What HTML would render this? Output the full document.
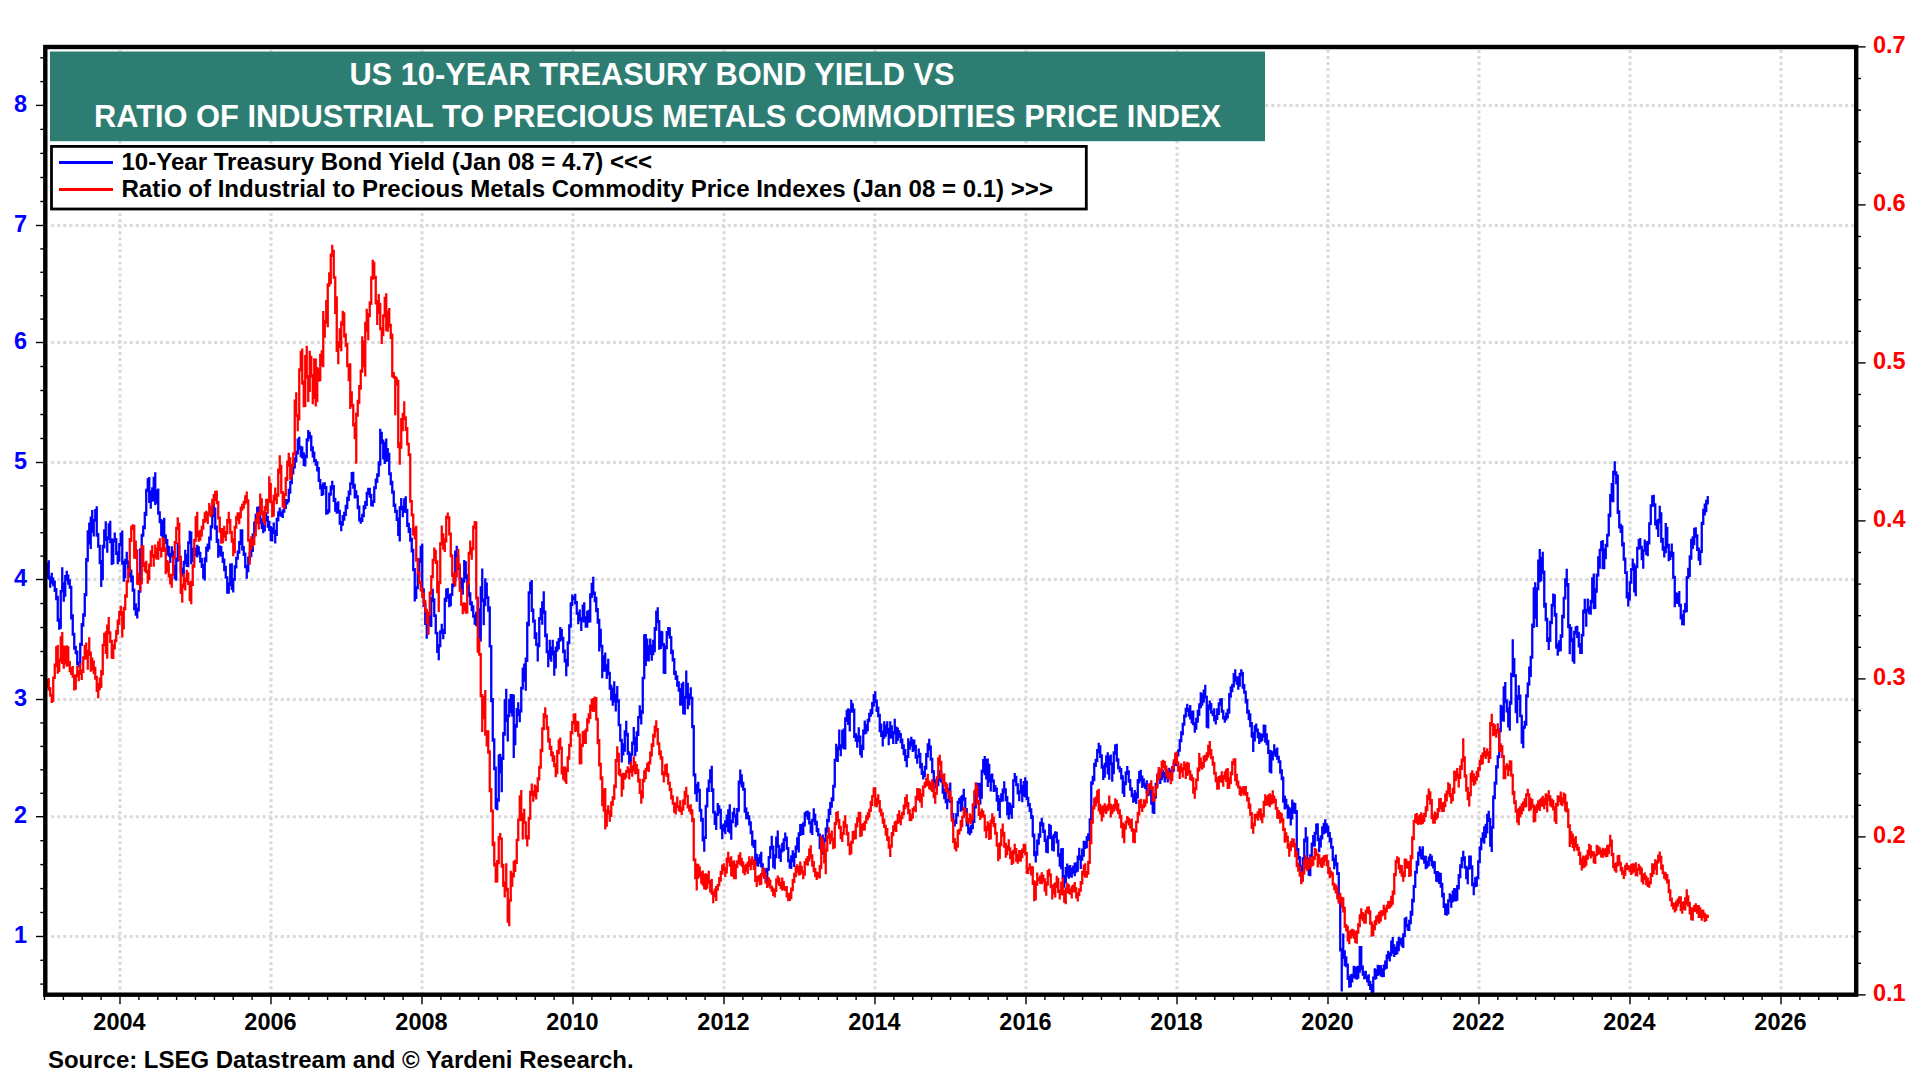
<!DOCTYPE html>
<html><head><meta charset="utf-8"><title>US 10-Year Treasury Bond Yield vs Ratio</title>
<style>
html,body{margin:0;padding:0;background:#fff;}
body{width:1920px;height:1080px;overflow:hidden;position:relative;font-family:"Liberation Sans",sans-serif;}
svg{position:absolute;left:0;top:0;}
text{font-family:"Liberation Sans",sans-serif;font-weight:bold;}
.ax{font-size:23.5px;}
.ttl{font-size:30.8px;fill:#fff;}
.lg{font-size:24.06px;fill:#000;}
</style></head><body>
<svg width="1920" height="1080" viewBox="0 0 1920 1080">
<rect x="0" y="0" width="1920" height="1080" fill="#fff"/>

<g stroke="#dadada" stroke-width="3" stroke-dasharray="3 3.04" fill="none">
<line x1="120.0" y1="50" x2="120.0" y2="993"/>
<line x1="271.0" y1="50" x2="271.0" y2="993"/>
<line x1="422.0" y1="50" x2="422.0" y2="993"/>
<line x1="573.0" y1="50" x2="573.0" y2="993"/>
<line x1="724.0" y1="50" x2="724.0" y2="993"/>
<line x1="875.0" y1="50" x2="875.0" y2="993"/>
<line x1="1026.0" y1="50" x2="1026.0" y2="993"/>
<line x1="1177.0" y1="50" x2="1177.0" y2="993"/>
<line x1="1328.0" y1="50" x2="1328.0" y2="993"/>
<line x1="1479.0" y1="50" x2="1479.0" y2="993"/>
<line x1="1630.0" y1="50" x2="1630.0" y2="993"/>
<line x1="1781.0" y1="50" x2="1781.0" y2="993"/>
<line x1="51.2" y1="936.5" x2="1854" y2="936.5"/>
<line x1="51.2" y1="816.7" x2="1854" y2="816.7"/>
<line x1="51.2" y1="699.5" x2="1854" y2="699.5"/>
<line x1="51.2" y1="579.5" x2="1854" y2="579.5"/>
<line x1="51.2" y1="462.5" x2="1854" y2="462.5"/>
<line x1="51.2" y1="342.5" x2="1854" y2="342.5"/>
<line x1="51.2" y1="225.5" x2="1854" y2="225.5"/>
<line x1="51.2" y1="105.4" x2="1854" y2="105.4"/>
</g>
<path d="M45.75 574.1V580.8M47.25 564.2V577.1M48.75 561.4V578.6M50.25 577.4V586.5M51.75 573.8V582.6M53.25 578.7V585.2M54.75 581.6V590.9M56.25 589.1V599.2M57.75 596.8V620.7M59.25 619.3V628.5M60.75 591.2V627.6M62.25 568.5V591.3M63.75 583.5V600.6M65.25 576.2V595.7M66.75 572.0V579.7M68.25 575.6V583.5M69.75 580.5V587.5M71.25 586.9V618.4M72.75 615.5V634.7M74.25 634.0V648.6M75.75 647.0V653.0M77.25 651.7V664.0M78.75 662.6V666.3M80.25 644.0V663.5M81.75 624.2V644.9M83.25 614.4V625.7M84.75 594.2V615.5M86.25 559.2V595.1M87.75 531.5V560.5M89.25 523.6V543.4M90.75 517.7V547.9M92.25 511.2V531.6M93.75 520.0V535.4M95.25 510.1V520.6M96.75 507.4V535.5M98.25 534.2V546.6M99.75 545.8V563.2M101.25 561.2V585.9M102.75 546.0V579.1M104.25 530.4V547.3M105.75 522.3V539.8M107.25 537.4V551.6M108.75 524.4V538.8M110.25 521.8V542.2M111.75 539.3V563.9M113.25 539.9V563.1M114.75 533.6V541.3M116.25 539.1V553.9M117.75 552.5V563.2M119.25 544.1V560.6M120.75 533.6V544.8M122.25 531.6V563.6M123.75 561.9V580.7M125.25 559.8V577.4M126.75 552.8V563.1M128.25 561.7V568.5M129.75 567.2V576.3M131.25 570.6V581.2M132.75 576.7V590.7M134.25 589.7V609.2M135.75 604.4V614.6M137.25 608.6V617.3M138.75 591.2V610.3M140.25 549.4V591.6M141.75 534.8V551.2M143.25 526.7V535.7M144.75 513.0V528.1M146.25 490.0V514.9M147.75 479.5V490.8M149.25 478.1V501.8M150.75 491.6V507.6M152.25 488.4V500.7M153.75 477.8V500.2M155.25 473.4V503.8M156.75 490.6V502.6M158.25 489.6V513.5M159.75 512.3V522.1M161.25 520.1V535.2M162.75 521.5V537.0M164.25 518.9V538.9M165.75 535.6V542.9M167.25 540.1V554.0M168.75 547.0V555.5M170.25 553.8V561.9M171.75 547.3V556.4M173.25 552.0V568.5M174.75 566.0V578.0M176.25 558.7V579.7M177.75 543.8V560.7M179.25 546.1V558.3M180.75 556.9V572.0M182.25 568.7V575.3M183.75 562.0V572.9M185.25 550.8V563.3M186.75 555.5V565.9M188.25 542.4V566.1M189.75 532.0V543.2M191.25 532.6V563.2M192.75 548.9V560.6M194.25 548.1V550.2M195.75 549.2V555.2M197.25 545.8V556.3M198.75 547.5V554.0M200.25 553.0V561.7M201.75 559.1V566.9M203.25 565.1V577.6M204.75 558.4V579.4M206.25 547.7V561.1M207.75 544.7V550.5M209.25 537.7V548.4M210.75 526.5V539.3M212.25 514.7V527.4M213.75 505.5V516.1M215.25 508.6V528.5M216.75 526.7V541.9M218.25 539.9V556.7M219.75 546.4V554.4M221.25 547.2V555.5M222.75 552.9V561.8M224.25 559.6V570.1M225.75 566.9V577.6M227.25 577.3V592.6M228.75 583.5V592.7M230.25 564.7V584.8M231.75 564.5V588.8M233.25 579.2V591.3M234.75 566.5V579.7M236.25 557.9V567.4M237.75 551.7V558.7M239.25 542.2V552.7M240.75 530.4V543.8M242.25 530.5V549.4M243.75 547.1V554.9M245.25 553.6V567.0M246.75 566.0V577.6M248.25 557.7V571.0M249.75 553.5V559.6M251.25 549.2V556.0M252.75 534.5V550.9M254.25 522.6V536.4M255.75 514.9V524.0M257.25 507.8V516.5M258.75 507.3V514.5M260.25 511.2V522.7M261.75 519.3V527.8M263.25 523.6V532.0M264.75 519.0V530.3M266.25 513.2V520.7M267.75 517.0V526.5M269.25 521.8V529.9M270.75 527.1V539.9M272.25 528.6V540.4M273.75 523.6V532.8M275.25 531.0V542.3M276.75 519.0V534.8M278.25 512.4V520.4M279.75 508.6V515.2M281.25 512.7V515.5M282.75 510.4V516.8M284.25 504.0V511.5M285.75 500.2V507.8M287.25 500.4V503.4M288.75 490.0V501.4M290.25 481.8V492.6M291.75 472.3V483.0M293.25 465.1V473.4M294.75 458.7V467.4M296.25 451.9V461.3M297.75 439.7V453.3M299.25 438.0V448.6M300.75 447.0V456.1M302.25 447.7V457.4M303.75 453.5V464.8M305.25 455.6V465.3M306.75 439.5V457.2M308.25 431.1V440.3M309.75 432.9V437.8M311.25 436.5V450.2M312.75 447.3V456.3M314.25 452.6V461.0M315.75 460.1V464.5M317.25 462.3V470.4M318.75 468.2V480.8M320.25 480.1V488.4M321.75 485.7V494.8M323.25 483.7V494.2M324.75 483.4V487.8M326.25 487.1V513.5M327.75 510.3V513.1M329.25 493.7V511.6M330.75 486.7V494.7M332.25 481.9V488.5M333.75 486.2V500.9M335.25 498.9V510.5M336.75 503.7V512.5M338.25 502.5V512.3M339.75 510.8V523.6M341.25 522.2V530.0M342.75 516.2V524.7M344.25 512.8V519.7M345.75 505.8V514.9M347.25 498.0V508.2M348.75 491.6V499.8M350.25 483.4V494.1M351.75 473.2V483.9M353.25 473.0V487.6M354.75 484.9V497.4M356.25 491.4V497.1M357.75 496.3V508.0M359.25 506.6V520.4M360.75 518.6V522.5M362.25 514.8V520.9M363.75 506.3V516.2M365.25 502.1V508.1M366.75 492.8V504.9M368.25 489.0V493.8M369.75 488.9V496.7M371.25 494.9V505.0M372.75 501.5V505.7M374.25 487.3V501.9M375.75 479.7V488.1M377.25 474.3V481.8M378.75 462.3V475.5M380.25 429.9V464.6M381.75 433.0V442.7M383.25 440.7V458.3M384.75 443.2V462.8M386.25 439.6V460.8M387.75 449.1V460.1M389.25 453.9V474.1M390.75 473.3V484.2M392.25 481.8V492.6M393.75 491.7V505.8M395.25 504.7V511.9M396.75 510.8V519.8M398.25 518.6V534.9M399.75 507.3V540.3M401.25 499.2V509.1M402.75 507.0V516.0M404.25 499.5V511.7M405.75 497.4V511.8M407.25 510.0V525.9M408.75 523.9V531.9M410.25 528.9V540.7M411.75 539.0V551.3M413.25 549.9V570.1M414.75 569.2V600.3M416.25 587.4V597.9M417.75 574.2V588.1M419.25 559.3V575.9M420.75 546.9V561.9M422.25 544.6V590.6M423.75 589.4V605.9M425.25 604.2V623.9M426.75 622.6V637.5M428.25 614.6V632.4M429.75 616.2V625.0M431.25 597.8V625.9M432.75 590.0V600.8M434.25 599.5V615.9M435.75 615.5V633.1M437.25 632.9V651.9M438.75 645.1V659.0M440.25 631.5V646.2M441.75 625.0V632.6M443.25 630.2V638.0M444.75 598.9V632.9M446.25 589.7V600.8M447.75 589.1V597.5M449.25 595.5V606.0M450.75 594.3V605.2M452.25 584.7V594.8M453.75 577.9V586.0M455.25 551.7V580.5M456.75 546.8V557.5M458.25 556.2V568.8M459.75 567.5V578.6M461.25 578.5V589.2M462.75 579.7V593.6M464.25 561.2V581.6M465.75 562.5V577.8M467.25 575.3V586.9M468.75 584.4V595.7M470.25 593.5V604.0M471.75 602.4V610.2M473.25 606.4V616.5M474.75 615.7V623.7M476.25 612.8V625.2M477.75 599.7V614.5M479.25 609.4V640.6M480.75 587.4V640.3M482.25 569.6V600.8M483.75 599.6V624.2M485.25 579.4V605.2M486.75 583.6V597.9M488.25 597.3V610.5M489.75 607.5V646.3M491.25 646.2V701.1M492.75 699.2V740.6M494.25 739.3V769.1M495.75 767.6V808.0M497.25 799.4V809.0M498.75 755.7V800.6M500.25 755.0V772.4M501.75 757.9V791.0M503.25 733.1V758.8M504.75 700.2V734.6M506.25 689.9V720.8M507.75 715.7V740.3M509.25 699.9V716.1M510.75 695.2V711.9M512.25 695.2V715.4M513.75 695.6V756.9M515.25 724.8V744.2M516.75 709.1V726.5M518.25 703.4V714.8M519.75 710.3V721.2M521.25 687.9V711.3M522.75 668.6V688.3M524.25 664.7V680.7M525.75 658.6V689.5M527.25 622.8V660.9M528.75 592.5V625.1M530.25 583.0V592.9M531.75 581.1V610.9M533.25 609.7V621.7M534.75 620.6V637.9M536.25 633.5V644.9M537.75 644.2V660.3M539.25 618.1V646.2M540.75 609.2V618.8M542.25 602.3V623.7M543.75 592.4V612.9M545.25 611.7V636.0M546.75 634.7V652.0M548.25 651.4V666.0M549.75 640.8V658.4M551.25 647.6V660.5M552.75 641.0V654.4M554.25 651.7V674.5M555.75 647.6V667.4M557.25 642.5V650.5M558.75 639.2V648.4M560.25 628.1V640.5M561.75 629.8V639.7M563.25 638.0V652.2M564.75 650.6V661.4M566.25 659.8V675.0M567.75 642.4V665.4M569.25 625.3V643.1M570.75 603.5V626.5M572.25 595.6V604.9M573.75 597.2V598.9M575.25 594.9V603.4M576.75 602.2V613.5M578.25 613.1V623.0M579.75 610.7V620.0M581.25 618.2V629.8M582.75 605.6V621.0M584.25 603.5V621.4M585.75 617.5V626.6M587.25 611.9V626.7M588.75 611.0V621.5M590.25 594.5V621.3M591.75 584.0V596.8M593.25 578.0V594.2M594.75 592.6V601.0M596.25 597.9V611.2M597.75 609.1V622.5M599.25 619.9V650.3M600.75 630.0V646.4M602.25 646.0V677.1M603.75 656.4V670.6M605.25 653.6V670.5M606.75 665.5V677.8M608.25 659.8V674.2M609.75 672.8V688.7M611.25 686.0V699.4M612.75 688.7V704.5M614.25 682.4V701.3M615.75 695.0V710.3M617.25 687.2V701.6M618.75 700.4V725.1M620.25 724.8V740.5M621.75 739.9V761.3M623.25 744.4V754.4M624.75 731.4V750.6M626.25 721.9V735.4M627.75 733.8V753.8M629.25 752.5V763.4M630.75 754.1V763.3M632.25 742.7V754.7M633.75 728.1V743.9M635.25 737.8V755.1M636.75 732.3V750.6M638.25 717.2V734.9M639.75 706.5V717.7M641.25 711.2V723.3M642.75 677.8V712.6M644.25 635.3V678.2M645.75 635.2V664.8M647.25 639.7V660.1M648.75 646.4V660.4M650.25 639.7V653.9M651.75 645.6V659.5M653.25 640.8V654.2M654.75 628.2V651.0M656.25 611.7V629.5M657.75 608.5V622.0M659.25 621.1V648.7M660.75 631.9V647.8M662.25 632.4V645.4M663.75 644.1V672.6M665.25 646.5V672.8M666.75 632.1V648.0M668.25 628.2V634.5M669.75 628.4V637.7M671.25 637.2V653.0M672.75 651.0V660.4M674.25 659.2V673.8M675.75 671.9V678.9M677.25 676.5V685.5M678.75 682.3V690.6M680.25 689.2V704.7M681.75 684.4V704.3M683.25 682.9V713.0M684.75 696.9V713.5M686.25 671.7V697.6M687.75 684.0V708.1M689.25 694.7V704.3M690.75 688.5V698.4M692.25 697.8V727.2M693.75 726.2V775.4M695.25 774.3V793.2M696.75 784.8V800.7M698.25 783.0V791.6M699.75 790.0V810.5M701.25 809.9V820.7M702.75 819.0V840.4M704.25 837.4V850.7M705.75 805.8V837.8M707.25 788.8V806.3M708.75 780.6V790.8M710.25 770.5V782.2M711.75 766.9V790.9M713.25 789.5V812.3M714.75 811.8V823.8M716.25 814.2V828.9M717.75 804.2V814.9M719.25 806.3V812.7M720.75 809.8V828.0M722.25 826.0V838.0M723.75 824.7V830.5M725.25 821.5V833.2M726.75 815.6V826.1M728.25 810.4V830.9M729.75 805.5V832.4M731.25 820.8V838.5M732.75 812.8V822.2M734.25 809.0V816.3M735.75 815.5V826.2M737.25 809.2V824.0M738.75 781.7V810.6M740.25 770.7V783.3M741.75 775.4V786.3M743.25 782.8V789.7M744.75 789.2V811.5M746.25 808.4V818.2M747.75 812.8V818.4M749.25 816.5V824.3M750.75 822.4V833.2M752.25 831.6V844.6M753.75 840.9V846.9M755.25 840.9V864.0M756.75 854.8V864.6M758.25 858.2V865.6M759.75 855.4V862.5M761.25 852.9V866.4M762.75 864.4V874.7M764.25 868.9V877.7M765.75 869.6V881.7M767.25 868.9V886.1M768.75 857.2V869.5M770.25 847.2V857.6M771.75 837.0V848.6M773.25 846.6V866.7M774.75 855.5V868.1M776.25 837.7V857.0M777.75 831.7V846.6M779.25 845.8V857.6M780.75 849.7V860.9M782.25 843.9V851.3M783.75 839.5V850.2M785.25 833.7V840.2M786.75 837.7V848.6M788.25 848.2V861.0M789.75 860.4V867.4M791.25 856.4V867.8M792.75 851.4V861.0M794.25 854.1V865.9M795.75 846.6V856.8M797.25 838.4V848.9M798.75 833.3V851.4M800.25 825.2V834.8M801.75 824.8V834.2M803.25 823.5V833.9M804.75 813.3V825.3M806.25 812.2V815.7M807.75 811.7V818.7M809.25 813.2V823.4M810.75 822.1V832.0M812.25 819.9V833.9M813.75 809.4V820.8M815.25 814.9V824.2M816.75 822.0V831.2M818.25 829.1V835.2M819.75 834.7V848.0M821.25 837.5V850.3M822.75 835.7V853.6M824.25 839.2V853.9M825.75 828.7V840.7M827.25 819.8V831.3M828.75 810.0V821.1M830.25 803.2V813.8M831.75 798.5V806.5M833.25 785.8V800.0M834.75 760.0V786.5M836.25 744.9V760.3M837.75 747.3V760.9M839.25 730.6V749.0M840.75 745.3V755.1M842.25 730.8V747.0M843.75 729.7V748.4M845.25 718.5V748.4M846.75 710.9V720.6M848.25 709.5V723.8M849.75 710.4V730.3M851.25 700.8V711.5M852.75 704.5V711.7M854.25 709.6V736.8M855.75 734.1V740.5M857.25 736.4V746.6M858.75 728.4V740.9M860.25 736.6V754.0M861.75 746.0V756.7M863.25 730.7V748.8M864.75 721.6V733.3M866.25 725.3V732.7M867.75 719.9V730.0M869.25 713.9V721.0M870.75 710.2V715.5M872.25 703.2V713.1M873.75 695.1V705.7M875.25 692.4V701.9M876.75 700.6V710.8M878.25 707.7V716.1M879.75 714.8V731.1M881.25 724.7V735.9M882.75 731.6V745.4M884.25 722.3V737.5M885.75 725.9V735.5M887.25 722.5V732.8M888.75 729.0V744.1M890.25 722.5V737.3M891.75 726.5V737.7M893.25 732.2V742.8M894.75 719.8V733.3M896.25 727.7V742.8M897.75 728.7V739.9M899.25 731.3V736.7M900.75 734.2V742.2M902.25 739.6V747.9M903.75 745.5V754.2M905.25 750.1V760.1M906.75 756.1V766.2M908.25 739.5V756.8M909.75 742.3V748.5M911.25 737.9V745.3M912.75 740.5V750.8M914.25 740.6V749.8M915.75 745.8V757.6M917.25 756.2V762.7M918.75 749.6V756.7M920.25 753.9V767.4M921.75 763.8V773.9M923.25 772.1V778.4M924.75 766.9V776.0M926.25 754.2V768.7M927.75 744.5V756.4M929.25 739.9V749.4M930.75 746.6V759.6M932.25 759.0V772.1M933.75 771.1V782.6M935.25 780.5V787.1M936.75 781.0V789.0M938.25 778.1V785.0M939.75 771.2V780.2M941.25 772.1V781.6M942.75 780.2V792.7M944.25 789.9V798.2M945.75 789.2V802.0M947.25 800.2V808.2M948.75 788.9V800.9M950.25 783.6V801.8M951.75 801.2V816.7M953.25 814.2V823.2M954.75 820.9V825.4M956.25 814.5V822.9M957.75 802.0V815.4M959.25 799.2V802.9M960.75 797.4V810.6M962.25 795.9V809.3M963.75 789.9V799.7M965.25 798.4V811.2M966.75 809.2V825.4M968.25 824.1V832.5M969.75 828.5V834.1M971.25 825.9V832.1M972.75 820.6V828.2M974.25 805.8V821.9M975.75 789.3V807.3M977.25 784.0V793.8M978.75 783.8V796.0M980.25 784.0V803.5M981.75 770.8V797.7M983.25 760.1V771.9M984.75 757.2V774.0M986.25 759.8V778.4M987.75 759.7V785.8M989.25 765.0V781.3M990.75 775.4V790.4M992.25 774.6V781.4M993.75 780.7V790.9M995.25 786.2V790.4M996.75 788.7V800.6M998.25 796.1V809.9M999.75 799.1V816.9M1001.25 794.4V800.8M1002.75 789.7V800.3M1004.25 782.3V792.3M1005.75 789.4V800.1M1007.25 797.2V814.2M1008.75 803.5V818.3M1010.25 803.9V813.7M1011.75 806.2V817.5M1013.25 780.5V806.9M1014.75 774.1V781.2M1016.25 776.8V785.2M1017.75 784.5V793.3M1019.25 791.4V800.2M1020.75 779.8V792.6M1022.25 785.8V801.2M1023.75 782.2V795.4M1025.25 778.5V796.3M1026.75 781.8V798.9M1028.25 797.8V805.3M1029.75 804.1V811.0M1031.25 809.4V817.8M1032.75 816.4V836.2M1034.25 834.7V855.1M1035.75 852.1V861.4M1037.25 840.6V854.6M1038.75 834.5V843.7M1040.25 823.0V836.7M1041.75 819.0V825.0M1043.25 823.6V831.9M1044.75 830.6V840.9M1046.25 839.8V851.5M1047.75 836.6V852.1M1049.25 824.9V837.5M1050.75 826.2V838.0M1052.25 836.9V849.5M1053.75 835.0V850.4M1055.25 832.3V837.2M1056.75 833.0V842.4M1058.25 840.7V855.5M1059.75 854.4V865.7M1061.25 849.4V868.0M1062.75 849.2V877.6M1064.25 876.2V886.6M1065.75 868.2V882.2M1067.25 864.7V875.6M1068.75 866.8V877.6M1070.25 866.2V876.0M1071.75 868.8V876.6M1073.25 866.6V872.7M1074.75 863.6V875.0M1076.25 863.5V871.7M1077.75 856.7V870.5M1079.25 848.9V859.2M1080.75 856.3V867.9M1082.25 849.6V859.5M1083.75 841.9V855.5M1085.25 842.1V847.8M1086.75 837.1V847.0M1088.25 834.3V839.9M1089.75 819.5V840.1M1091.25 782.3V820.5M1092.75 777.0V783.6M1094.25 764.0V780.0M1095.75 759.9V765.9M1097.25 750.2V761.1M1098.75 744.0V752.2M1100.25 746.3V756.9M1101.75 755.3V767.6M1103.25 766.5V778.9M1104.75 764.0V776.7M1106.25 756.4V766.3M1107.75 753.5V773.3M1109.25 756.9V778.5M1110.75 755.6V764.1M1112.25 763.5V780.5M1113.75 752.5V773.0M1115.25 745.4V753.5M1116.75 744.8V760.5M1118.25 759.4V768.1M1119.75 767.3V771.3M1121.25 769.1V778.4M1122.75 776.3V792.6M1124.25 782.4V795.9M1125.75 772.5V784.1M1127.25 767.2V773.9M1128.75 771.5V781.6M1130.25 780.2V789.6M1131.75 788.3V796.1M1133.25 794.7V801.5M1134.75 791.2V800.8M1136.25 793.6V802.9M1137.75 780.2V797.3M1139.25 772.1V782.4M1140.75 770.9V780.1M1142.25 776.6V786.9M1143.75 779.4V785.7M1145.25 784.4V787.8M1146.75 781.5V792.1M1148.25 789.1V795.2M1149.75 784.5V794.1M1151.25 790.4V803.6M1152.75 799.8V812.4M1154.25 796.3V812.9M1155.75 783.8V797.7M1157.25 776.5V786.1M1158.75 771.7V778.5M1160.25 778.3V782.9M1161.75 770.8V779.0M1163.25 771.2V776.8M1164.75 773.2V781.4M1166.25 769.7V777.5M1167.75 770.5V781.3M1169.25 768.8V777.6M1170.75 770.8V779.3M1172.25 767.2V772.5M1173.75 763.7V770.7M1175.25 758.7V764.6M1176.75 754.6V765.0M1178.25 750.3V755.3M1179.75 740.1V750.7M1181.25 732.3V741.2M1182.75 723.8V734.1M1184.25 715.6V724.7M1185.75 708.8V716.4M1187.25 704.9V710.8M1188.75 708.8V715.5M1190.25 706.1V718.4M1191.75 711.8V722.4M1193.25 711.7V724.1M1194.75 723.5V731.5M1196.25 719.0V728.6M1197.75 710.8V721.6M1199.25 704.4V714.9M1200.75 693.3V707.0M1202.25 694.4V704.6M1203.75 690.7V701.7M1205.25 685.8V697.3M1206.75 697.0V726.5M1208.25 705.6V727.3M1209.75 701.6V708.7M1211.25 704.1V712.6M1212.75 711.7V715.1M1214.25 709.4V720.3M1215.75 716.1V723.3M1217.25 709.5V718.9M1218.75 703.5V713.9M1220.25 699.6V704.6M1221.75 699.2V711.5M1223.25 710.9V718.4M1224.75 716.9V721.5M1226.25 713.7V719.4M1227.75 710.0V717.3M1229.25 694.2V712.5M1230.75 687.3V696.6M1232.25 685.1V691.2M1233.75 674.2V686.4M1235.25 670.5V680.7M1236.75 677.4V683.7M1238.25 677.5V688.5M1239.75 674.0V685.7M1241.25 670.3V675.0M1242.75 673.0V687.7M1244.25 685.1V692.6M1245.75 691.9V702.4M1247.25 700.1V712.5M1248.75 710.8V719.2M1250.25 714.4V726.2M1251.75 723.1V736.5M1253.25 733.1V750.9M1254.75 726.3V740.3M1256.25 724.7V731.0M1257.75 729.6V737.2M1259.25 733.5V742.8M1260.75 734.3V741.1M1262.25 734.9V740.1M1263.75 725.7V736.6M1265.25 725.9V741.7M1266.75 734.5V744.2M1268.25 740.8V752.9M1269.75 751.0V771.3M1271.25 751.3V772.3M1272.75 752.3V759.4M1274.25 745.5V754.3M1275.75 750.0V755.9M1277.25 748.7V758.5M1278.75 757.0V762.0M1280.25 761.4V772.6M1281.75 770.3V779.1M1283.25 777.6V801.7M1284.75 796.7V808.4M1286.25 799.9V807.3M1287.75 805.7V817.5M1289.25 808.0V817.3M1290.75 809.5V824.3M1292.25 800.7V818.3M1293.75 803.4V812.1M1295.25 804.1V812.9M1296.75 811.2V850.4M1298.25 849.1V858.5M1299.75 857.2V867.8M1301.25 866.5V881.5M1302.75 858.5V880.3M1304.25 839.6V859.9M1305.75 828.5V841.1M1307.25 837.6V859.5M1308.75 858.8V874.7M1310.25 855.4V875.2M1311.75 843.6V856.6M1313.25 836.2V845.7M1314.75 832.9V845.4M1316.25 824.6V833.4M1317.75 824.3V840.2M1319.25 839.0V851.2M1320.75 836.5V846.4M1322.25 827.3V838.4M1323.75 824.0V833.2M1325.25 820.4V832.3M1326.75 824.5V831.5M1328.25 826.8V835.9M1329.75 833.2V841.4M1331.25 838.8V847.6M1332.75 847.1V860.1M1334.25 858.9V868.2M1335.75 855.6V864.9M1337.25 863.3V873.9M1338.75 873.2V900.9M1340.25 899.7V950.3M1341.75 949.0V990.4M1343.25 934.7V957.9M1344.75 951.3V965.0M1346.25 957.4V966.2M1347.75 964.7V978.8M1349.25 976.8V986.5M1350.75 975.4V986.1M1352.25 975.0V981.3M1353.75 966.9V977.1M1355.25 967.6V977.5M1356.75 967.4V978.6M1358.25 966.9V977.5M1359.75 947.1V971.5M1361.25 947.1V968.8M1362.75 966.6V974.6M1364.25 972.4V978.0M1365.75 971.9V978.2M1367.25 976.4V981.4M1368.75 975.3V984.8M1370.25 981.9V988.9M1371.75 985.2V992.3M1373.25 977.6V991.5M1374.75 969.3V978.5M1376.25 970.3V978.2M1377.75 965.9V974.9M1379.25 966.5V973.8M1380.75 966.2V975.3M1382.25 969.4V976.0M1383.75 965.6V975.9M1385.25 961.7V968.5M1386.75 955.5V967.7M1388.25 951.9V958.0M1389.75 953.4V960.3M1391.25 941.6V955.2M1392.75 938.2V952.7M1394.25 945.3V955.9M1395.75 948.0V953.8M1397.25 942.3V953.2M1398.75 937.8V950.0M1400.25 938.9V943.6M1401.75 938.6V945.6M1403.25 934.4V946.8M1404.75 918.8V935.8M1406.25 917.8V926.2M1407.75 925.0V929.6M1409.25 920.9V929.9M1410.75 911.9V923.1M1412.25 900.0V914.5M1413.75 886.1V901.4M1415.25 871.8V886.9M1416.75 861.8V872.7M1418.25 853.0V864.5M1419.75 847.4V855.2M1421.25 850.2V858.0M1422.75 847.4V858.8M1424.25 856.7V862.5M1425.75 856.8V868.2M1427.25 861.9V867.1M1428.75 857.7V865.1M1430.25 854.8V860.4M1431.75 856.7V865.2M1433.25 862.0V867.4M1434.75 862.5V872.9M1436.25 872.2V880.5M1437.75 872.1V881.0M1439.25 873.5V882.8M1440.75 874.1V886.6M1442.25 884.0V896.3M1443.75 893.9V906.8M1445.25 904.4V913.9M1446.75 904.8V914.5M1448.25 900.4V913.3M1449.75 894.3V901.1M1451.25 895.9V906.7M1452.75 891.7V901.4M1454.25 889.2V900.2M1455.75 889.4V900.3M1457.25 886.1V899.7M1458.75 875.1V888.3M1460.25 865.4V877.2M1461.75 858.2V867.1M1463.25 852.0V860.0M1464.75 857.4V867.5M1466.25 867.0V878.1M1467.75 867.9V883.1M1469.25 856.7V868.6M1470.75 856.7V868.1M1472.25 866.3V885.2M1473.75 883.7V894.2M1475.25 878.4V886.0M1476.75 877.4V885.6M1478.25 861.5V878.0M1479.75 847.4V862.1M1481.25 839.0V849.1M1482.75 833.4V841.1M1484.25 827.4V842.5M1485.75 824.8V836.8M1487.25 814.8V832.3M1488.75 811.8V820.8M1490.25 819.2V845.7M1491.75 827.1V850.9M1493.25 796.7V827.6M1494.75 782.7V798.1M1496.25 766.5V783.6M1497.75 756.3V767.3M1499.25 729.5V757.1M1500.75 706.0V731.2M1502.25 706.9V720.2M1503.75 687.5V720.6M1505.25 683.1V702.1M1506.75 700.4V711.3M1508.25 708.7V726.3M1509.75 701.8V729.7M1511.25 673.9V703.5M1512.75 640.5V675.8M1514.25 659.1V676.0M1515.75 675.4V712.1M1517.25 696.2V722.1M1518.75 686.3V698.9M1520.25 695.6V716.2M1521.75 715.8V742.7M1523.25 727.0V747.0M1524.75 721.8V727.7M1526.25 695.5V724.5M1527.75 683.5V696.4M1529.25 667.6V684.5M1530.75 656.9V675.9M1532.25 624.7V657.7M1533.75 588.3V626.9M1535.25 583.3V617.7M1536.75 588.5V625.8M1538.25 560.6V589.1M1539.75 550.1V581.2M1541.25 557.9V580.0M1542.75 553.0V572.8M1544.25 571.6V606.7M1545.75 603.8V620.0M1547.25 618.9V640.9M1548.75 638.4V648.8M1550.25 622.0V640.9M1551.75 604.8V623.2M1553.25 594.6V605.6M1554.75 595.4V615.5M1556.25 614.2V647.6M1557.75 644.3V654.5M1559.25 641.3V650.7M1560.75 635.3V650.1M1562.25 615.8V636.6M1563.75 597.9V617.3M1565.25 579.4V598.3M1566.75 569.9V585.6M1568.25 584.1V627.1M1569.75 625.2V653.0M1571.25 627.9V640.8M1572.75 639.2V660.5M1574.25 631.9V662.5M1575.75 627.5V633.3M1577.25 627.0V636.8M1578.75 632.8V646.3M1580.25 644.2V652.8M1581.75 634.8V652.9M1583.25 610.7V635.4M1584.75 599.9V612.3M1586.25 609.9V625.6M1587.75 599.7V611.0M1589.25 607.3V613.1M1590.75 600.9V613.6M1592.25 578.5V602.1M1593.75 574.7V608.2M1595.25 588.8V607.9M1596.75 574.6V591.5M1598.25 557.4V575.6M1599.75 550.0V567.7M1601.25 542.1V550.2M1602.75 541.1V568.1M1604.25 549.4V568.2M1605.75 544.9V558.2M1607.25 534.8V546.0M1608.75 514.7V535.3M1610.25 495.2V516.2M1611.75 484.2V500.6M1613.25 471.8V501.0M1614.75 462.5V474.4M1616.25 472.4V483.1M1617.75 475.7V512.8M1619.25 511.3V527.3M1620.75 524.8V531.9M1622.25 526.6V545.3M1623.75 543.5V559.7M1625.25 558.7V572.8M1626.75 572.3V597.3M1628.25 593.4V605.4M1629.75 582.3V599.3M1631.25 569.1V582.7M1632.75 559.6V569.6M1634.25 564.3V591.3M1635.75 566.7V595.2M1637.25 548.0V567.1M1638.75 540.2V548.5M1640.25 539.1V548.0M1641.75 546.9V559.2M1643.25 550.3V567.5M1644.75 540.7V550.7M1646.25 542.7V553.9M1647.75 542.0V555.0M1649.25 523.5V543.3M1650.75 505.3V523.8M1652.25 496.5V505.8M1653.75 495.9V505.3M1655.25 504.5V524.3M1656.75 520.8V528.4M1658.25 519.8V535.8M1659.75 507.0V522.4M1661.25 513.5V541.5M1662.75 539.0V549.5M1664.25 547.3V556.3M1665.75 524.2V552.0M1667.25 527.8V547.0M1668.75 544.8V560.2M1670.25 552.4V558.9M1671.75 544.7V556.1M1673.25 552.9V577.5M1674.75 576.9V606.1M1676.25 593.4V602.7M1677.75 594.2V602.9M1679.25 592.2V605.6M1680.75 605.0V618.4M1682.25 615.5V624.1M1683.75 610.9V624.4M1685.25 604.1V611.6M1686.75 577.4V611.1M1688.25 568.9V577.7M1689.75 556.5V575.8M1691.25 539.8V558.5M1692.75 537.3V547.9M1694.25 529.0V544.0M1695.75 528.5V536.8M1697.25 535.5V549.9M1698.75 548.7V559.7M1700.25 551.2V564.2M1701.75 522.9V551.8M1703.25 509.8V523.8M1704.75 504.7V514.4M1706.25 500.9V511.2M1707.75 497.2V503.4" fill="none" stroke="#0000ff" stroke-width="2.30" stroke-linecap="square"/>
<path d="M45.75 682.2V692.3M47.25 680.5V687.1M48.75 679.1V689.5M50.25 688.2V695.6M51.75 694.8V701.9M53.25 677.7V700.9M54.75 664.7V677.9M56.25 647.3V665.8M57.75 646.2V672.6M59.25 659.8V670.9M60.75 637.3V661.1M62.25 633.1V662.8M63.75 646.7V667.6M65.25 647.5V663.3M66.75 646.4V665.5M68.25 647.4V665.0M69.75 662.2V671.0M71.25 668.3V673.8M72.75 667.1V676.5M74.25 675.7V689.4M75.75 675.3V688.6M77.25 667.1V675.8M78.75 670.9V680.2M80.25 663.8V673.9M81.75 670.6V678.8M83.25 657.3V671.9M84.75 645.8V658.5M86.25 643.7V658.4M87.75 650.8V668.7M89.25 638.5V654.9M90.75 652.6V670.5M92.25 658.7V669.3M93.75 661.6V673.0M95.25 667.9V678.7M96.75 676.9V690.9M98.25 684.2V697.0M99.75 678.6V689.0M101.25 671.2V686.8M102.75 645.0V674.2M104.25 633.9V645.1M105.75 632.4V652.8M107.25 625.7V657.6M108.75 618.2V633.3M110.25 632.4V641.9M111.75 641.0V657.6M113.25 645.4V657.9M114.75 640.3V648.3M116.25 631.2V641.0M117.75 620.7V633.6M119.25 612.0V623.6M120.75 606.9V614.6M122.25 612.5V636.4M123.75 608.0V628.3M125.25 595.4V609.1M126.75 581.1V596.6M128.25 569.6V581.7M129.75 539.1V571.7M131.25 527.0V540.9M132.75 525.5V529.1M134.25 525.9V557.6M135.75 541.6V557.9M137.25 550.4V583.5M138.75 574.0V584.2M140.25 582.0V590.1M141.75 546.5V583.0M143.25 546.5V565.9M144.75 563.5V570.5M146.25 562.0V572.1M147.75 570.8V582.7M149.25 564.7V579.0M150.75 551.5V565.9M152.25 546.3V556.5M153.75 555.1V565.5M155.25 545.7V557.2M156.75 549.0V558.6M158.25 542.3V558.7M159.75 539.4V549.8M161.25 548.3V556.3M162.75 538.1V550.8M164.25 539.9V550.7M165.75 548.7V573.2M167.25 561.2V571.3M168.75 562.5V576.3M170.25 574.9V583.3M171.75 574.9V586.6M173.25 557.1V575.0M174.75 542.1V557.6M176.25 527.8V542.9M177.75 518.4V529.1M179.25 523.6V559.5M180.75 557.9V592.9M182.25 584.8V601.6M183.75 574.9V587.0M185.25 578.6V589.4M186.75 570.8V581.1M188.25 573.3V583.8M189.75 582.7V600.0M191.25 581.8V603.1M192.75 565.4V584.8M194.25 540.1V566.7M195.75 517.2V540.6M197.25 512.9V535.8M198.75 532.1V540.5M200.25 530.9V539.6M201.75 526.9V535.7M203.25 520.2V528.5M204.75 513.4V521.7M206.25 511.9V520.3M207.75 513.0V522.9M209.25 504.1V514.6M210.75 507.0V516.1M212.25 500.0V513.9M213.75 495.1V504.5M215.25 491.8V499.9M216.75 491.6V503.1M218.25 502.2V518.4M219.75 517.6V531.5M221.25 529.2V542.7M222.75 529.2V542.0M224.25 526.8V536.6M225.75 532.1V540.2M227.25 520.2V533.3M228.75 512.9V522.3M230.25 520.2V532.8M231.75 531.8V541.7M233.25 539.5V555.2M234.75 527.0V552.0M236.25 517.0V527.7M237.75 513.4V519.7M239.25 513.4V523.0M240.75 507.6V517.4M242.25 505.0V509.7M243.75 502.0V507.5M245.25 496.3V503.5M246.75 492.6V501.9M248.25 500.3V540.7M249.75 540.2V563.7M251.25 537.4V548.7M252.75 539.8V545.4M254.25 533.9V544.2M255.75 519.6V535.1M257.25 513.6V522.8M258.75 512.9V528.4M260.25 494.6V514.6M261.75 499.4V513.6M263.25 511.8V521.2M264.75 507.2V524.3M266.25 499.9V509.3M267.75 499.8V512.5M269.25 477.3V501.5M270.75 483.8V502.2M272.25 501.9V516.0M273.75 495.9V515.3M275.25 488.6V499.6M276.75 494.4V503.0M278.25 469.6V495.7M279.75 456.3V472.5M281.25 466.0V492.7M282.75 492.1V506.6M284.25 493.9V507.8M285.75 478.1V495.0M287.25 461.7V479.9M288.75 453.8V465.5M290.25 458.3V478.7M291.75 465.0V476.0M293.25 453.5V465.5M294.75 400.7V454.0M296.25 393.5V415.9M297.75 415.5V430.0M299.25 369.5V419.3M300.75 351.9V370.4M302.25 349.7V383.6M303.75 381.6V406.1M305.25 356.1V405.9M306.75 347.0V377.6M308.25 376.1V400.8M309.75 351.9V390.9M311.25 357.0V376.4M312.75 375.1V403.0M314.25 359.5V397.8M315.75 359.7V405.3M317.25 368.1V401.1M318.75 369.4V380.6M320.25 355.0V380.1M321.75 351.5V365.1M323.25 312.2V366.0M324.75 321.0V336.5M326.25 301.1V322.6M327.75 284.4V326.2M329.25 273.3V285.5M330.75 254.7V283.2M332.25 245.9V255.9M333.75 250.9V277.5M335.25 277.5V312.9M336.75 297.5V350.8M338.25 342.3V363.1M339.75 329.4V346.9M341.25 322.5V350.2M342.75 311.8V324.6M344.25 313.5V336.3M345.75 334.4V345.9M347.25 344.1V366.0M348.75 364.7V380.1M350.25 364.4V407.8M351.75 392.4V405.9M353.25 404.9V425.4M354.75 423.9V438.0M356.25 413.6V462.7M357.75 401.0V415.7M359.25 386.2V402.9M360.75 370.7V388.6M362.25 337.3V371.6M363.75 341.6V366.1M365.25 322.9V375.4M366.75 309.9V331.0M368.25 314.4V339.0M369.75 302.5V316.2M371.25 277.3V303.8M372.75 261.0V278.7M374.25 262.8V277.8M375.75 276.8V303.4M377.25 301.1V323.8M378.75 295.2V312.8M380.25 303.8V329.1M381.75 328.3V342.9M383.25 315.3V335.1M384.75 297.8V316.3M386.25 294.3V330.1M387.75 311.6V330.6M389.25 309.2V326.4M390.75 324.9V337.9M392.25 334.6V376.0M393.75 373.2V377.7M395.25 377.0V414.1M396.75 378.3V384.3M398.25 381.0V447.1M399.75 443.5V463.5M401.25 419.1V447.6M402.75 413.8V430.0M404.25 402.3V418.8M405.75 417.4V429.9M407.25 428.1V444.3M408.75 443.8V455.2M410.25 454.5V501.7M411.75 501.1V515.4M413.25 514.6V534.4M414.75 528.3V538.3M416.25 527.0V560.6M417.75 559.0V573.6M419.25 572.3V583.2M420.75 582.1V590.3M422.25 588.5V597.1M423.75 593.7V604.2M425.25 600.8V611.2M426.75 609.8V622.9M428.25 612.8V633.9M429.75 592.7V614.5M431.25 576.5V593.8M432.75 559.8V577.2M434.25 548.7V560.2M435.75 550.8V562.8M437.25 561.5V592.2M438.75 582.1V610.8M440.25 543.5V583.2M441.75 526.7V544.3M443.25 534.4V548.7M444.75 539.4V550.8M446.25 516.8V541.3M447.75 513.7V518.2M449.25 517.3V534.3M450.75 533.7V556.1M452.25 555.5V575.8M453.75 573.7V582.5M455.25 573.4V585.4M456.75 558.3V576.4M458.25 549.9V565.6M459.75 564.6V590.5M461.25 589.9V604.5M462.75 603.8V613.1M464.25 603.4V610.2M465.75 604.2V612.7M467.25 583.0V612.6M468.75 552.8V584.0M470.25 541.7V553.9M471.75 548.4V558.6M473.25 526.6V549.2M474.75 522.1V528.0M476.25 522.4V598.4M477.75 597.6V651.5M479.25 639.5V654.6M480.75 654.1V696.0M482.25 695.1V730.8M483.75 697.1V718.1M485.25 691.2V734.5M486.75 731.3V745.3M488.25 731.5V752.5M489.75 751.4V791.1M491.25 789.2V811.0M492.75 810.6V845.0M494.25 842.7V865.3M495.75 864.0V881.5M497.25 861.2V881.3M498.75 837.2V863.2M500.25 834.2V839.1M501.75 838.6V866.5M503.25 864.8V885.9M504.75 882.6V896.4M506.25 864.5V890.3M507.75 888.9V921.6M509.25 899.8V925.2M510.75 871.9V900.6M512.25 873.9V885.5M513.75 862.0V876.3M515.25 860.8V870.8M516.75 839.9V862.8M518.25 819.7V840.2M519.75 796.3V820.1M521.25 791.2V819.8M522.75 814.3V838.3M524.25 809.8V822.6M525.75 822.3V838.0M527.25 836.4V845.4M528.75 817.9V838.3M530.25 792.0V818.5M531.75 784.6V794.7M533.25 791.6V800.6M534.75 785.6V795.5M536.25 786.8V798.4M537.75 778.5V791.1M539.25 767.0V779.3M540.75 749.9V767.6M542.25 728.3V751.2M543.75 714.5V729.0M545.25 708.3V717.2M546.75 715.9V728.5M548.25 727.5V741.3M549.75 739.5V748.8M551.25 747.0V755.1M552.75 752.6V760.6M554.25 756.5V766.1M555.75 764.3V776.2M557.25 751.2V773.1M558.75 740.7V753.2M560.25 738.6V748.6M561.75 747.7V773.4M563.25 768.0V778.5M564.75 767.4V780.5M566.25 768.7V782.8M567.75 757.3V770.8M569.25 744.8V758.5M570.75 732.2V745.9M572.25 722.1V733.1M573.75 714.7V723.4M575.25 714.5V730.9M576.75 721.8V730.3M578.25 722.3V735.6M579.75 734.6V763.4M581.25 744.8V763.0M582.75 732.3V745.8M584.25 731.6V742.9M585.75 729.6V742.8M587.25 719.4V730.5M588.75 714.5V722.3M590.25 705.7V717.8M591.75 699.9V710.1M593.25 699.1V710.9M594.75 697.6V710.7M596.25 698.2V719.4M597.75 718.9V743.1M599.25 740.2V765.3M600.75 763.9V779.1M602.25 777.5V805.1M603.75 789.7V810.7M605.25 789.1V828.4M606.75 810.7V825.7M608.25 806.3V813.3M609.75 811.3V820.7M611.25 802.3V815.9M612.75 797.3V804.6M614.25 785.7V798.5M615.75 759.8V787.2M617.25 747.5V760.8M618.75 754.0V774.0M620.25 769.9V775.4M621.75 774.9V795.6M623.25 773.9V788.5M624.75 773.9V778.7M626.25 770.8V777.1M627.75 767.3V771.8M629.25 769.7V778.4M630.75 762.7V771.8M632.25 766.3V775.5M633.75 757.4V770.4M635.25 762.5V773.0M636.75 765.2V772.9M638.25 769.8V781.4M639.75 779.9V792.8M641.25 791.4V802.5M642.75 780.0V797.3M644.25 771.4V781.1M645.75 769.0V778.2M647.25 763.9V769.8M648.75 762.4V770.8M650.25 752.6V763.3M651.75 744.5V755.3M653.25 735.0V745.9M654.75 726.6V736.7M656.25 721.4V730.5M657.75 729.1V744.2M659.25 743.5V754.2M660.75 751.5V758.6M662.25 757.5V774.2M663.75 772.5V781.4M665.25 765.4V774.2M666.75 764.6V775.8M668.25 774.3V783.7M669.75 782.9V790.1M671.25 789.2V798.4M672.75 796.5V803.6M674.25 803.2V811.5M675.75 804.0V813.3M677.25 797.6V806.8M678.75 806.4V810.1M680.25 801.5V811.2M681.75 807.8V813.9M683.25 800.4V809.5M684.75 791.8V803.9M686.25 787.9V796.4M687.75 796.0V807.4M689.25 806.0V810.5M690.75 805.3V813.4M692.25 810.5V821.2M693.75 819.1V860.2M695.25 859.4V878.2M696.75 864.6V889.3M698.25 864.9V877.6M699.75 867.4V875.8M701.25 872.6V882.7M702.75 871.6V884.6M704.25 874.9V888.1M705.75 874.3V888.9M707.25 875.2V887.6M708.75 871.9V883.1M710.25 881.2V891.3M711.75 880.0V893.5M713.25 892.4V902.1M714.75 889.6V896.1M716.25 887.2V899.8M717.75 885.1V889.5M719.25 878.2V885.4M720.75 871.8V880.6M722.25 865.7V873.6M723.75 864.3V870.0M725.25 868.1V875.9M726.75 858.7V872.4M728.25 852.8V861.6M729.75 858.7V865.5M731.25 857.3V875.2M732.75 862.2V875.8M734.25 861.5V878.2M735.75 865.0V878.2M737.25 861.5V867.1M738.75 855.9V862.8M740.25 853.3V864.1M741.75 859.0V865.7M743.25 862.3V872.1M744.75 866.1V874.2M746.25 864.6V870.6M747.75 862.7V872.9M749.25 857.5V865.6M750.75 860.4V869.1M752.25 857.5V863.8M753.75 860.4V868.8M755.25 861.8V880.9M756.75 876.8V885.9M758.25 876.7V880.3M759.75 875.7V884.2M761.25 874.2V883.5M762.75 868.5V875.3M764.25 870.0V877.6M765.75 873.8V882.7M767.25 882.2V886.8M768.75 878.4V884.8M770.25 880.6V887.7M771.75 886.6V890.6M773.25 888.7V894.8M774.75 889.9V896.3M776.25 879.6V890.9M777.75 876.6V882.7M779.25 878.6V884.8M780.75 882.9V887.9M782.25 878.6V889.6M783.75 882.1V888.8M785.25 887.1V889.8M786.75 887.2V896.4M788.25 894.4V900.1M789.75 893.7V899.8M791.25 888.7V898.1M792.75 880.2V890.2M794.25 873.9V881.8M795.75 867.5V876.0M797.25 865.5V871.6M798.75 867.0V874.4M800.25 862.6V874.2M801.75 867.0V872.4M803.25 871.6V878.2M804.75 862.2V874.7M806.25 859.5V863.9M807.75 857.1V864.7M809.25 849.7V860.4M810.75 846.5V857.6M812.25 855.3V865.6M813.75 862.2V871.1M815.25 869.2V876.2M816.75 872.6V878.9M818.25 873.4V876.5M819.75 866.2V877.3M821.25 836.8V868.1M822.75 839.6V851.1M824.25 844.0V862.4M825.75 849.7V873.2M827.25 836.0V850.6M828.75 828.4V837.6M830.25 834.3V843.0M831.75 831.6V840.1M833.25 838.8V848.0M834.75 823.1V847.2M836.25 813.2V824.2M837.75 812.1V821.2M839.25 819.9V828.2M840.75 827.0V838.0M842.25 833.1V840.8M843.75 821.9V833.9M845.25 816.5V826.9M846.75 825.5V834.4M848.25 832.9V845.2M849.75 843.9V854.1M851.25 841.8V853.1M852.75 832.2V842.6M854.25 831.6V838.6M855.75 824.5V838.2M857.25 818.5V826.3M858.75 813.0V821.0M860.25 812.8V835.9M861.75 824.9V835.1M863.25 824.1V829.5M864.75 821.8V829.3M866.25 816.5V822.6M867.75 813.3V819.0M869.25 809.9V816.6M870.75 802.0V810.8M872.25 796.1V804.9M873.75 788.3V796.3M875.25 788.5V805.3M876.75 798.9V806.2M878.25 795.4V803.0M879.75 801.1V811.4M881.25 809.6V815.0M882.75 813.3V822.6M884.25 819.7V826.9M885.75 826.0V834.5M887.25 829.1V839.9M888.75 837.4V847.7M890.25 845.7V855.9M891.75 833.1V846.5M893.25 826.4V835.2M894.75 822.5V830.1M896.25 821.7V830.9M897.75 815.0V822.8M899.25 811.5V821.8M900.75 816.1V824.0M902.25 812.9V818.0M903.75 805.7V814.2M905.25 798.1V808.2M906.75 795.5V806.1M908.25 803.1V813.1M909.75 810.5V819.8M911.25 814.8V820.2M912.75 808.9V817.7M914.25 807.5V810.1M915.75 796.9V811.2M917.25 789.2V799.0M918.75 789.3V799.6M920.25 790.0V801.5M921.75 794.2V806.5M923.25 786.4V795.6M924.75 783.0V786.8M926.25 779.1V785.5M927.75 774.8V784.9M929.25 781.6V788.1M930.75 783.3V789.3M932.25 780.4V790.8M933.75 783.6V797.1M935.25 793.0V802.6M936.75 777.4V793.7M938.25 758.5V778.2M939.75 755.8V764.3M941.25 761.8V777.2M942.75 775.6V782.3M944.25 774.5V785.9M945.75 783.1V790.9M947.25 784.7V791.9M948.75 791.6V797.4M950.25 791.7V799.8M951.75 797.9V820.5M953.25 819.9V841.9M954.75 839.2V848.0M956.25 842.6V850.4M957.75 830.9V846.5M959.25 829.8V833.6M960.75 821.2V830.2M962.25 816.7V826.0M963.75 808.2V817.0M965.25 809.1V814.5M966.75 813.6V821.0M968.25 819.1V823.4M969.75 814.5V821.5M971.25 815.8V823.0M972.75 804.4V819.4M974.25 791.3V805.2M975.75 783.4V792.5M977.25 786.4V803.0M978.75 801.2V814.8M980.25 812.3V818.8M981.75 809.7V816.5M983.25 811.7V816.3M984.75 815.7V830.3M986.25 826.9V837.0M987.75 822.3V830.2M989.25 824.2V838.8M990.75 820.6V838.1M992.25 814.3V823.1M993.75 817.6V826.2M995.25 824.1V833.6M996.75 833.0V845.5M998.25 844.7V860.1M999.75 843.3V857.8M1001.25 830.0V845.0M1002.75 824.7V835.5M1004.25 832.8V846.7M1005.75 843.8V856.7M1007.25 846.3V854.0M1008.75 840.3V849.6M1010.25 848.4V858.2M1011.75 852.2V863.8M1013.25 850.8V862.6M1014.75 845.0V853.1M1016.25 849.1V860.5M1017.75 855.0V862.5M1019.25 851.2V860.3M1020.75 851.2V860.5M1022.25 849.7V857.0M1023.75 844.8V851.8M1025.25 844.8V854.1M1026.75 852.8V872.5M1028.25 868.3V872.8M1029.75 864.4V869.2M1031.25 867.2V874.4M1032.75 867.3V883.9M1034.25 881.4V900.2M1035.75 882.6V899.1M1037.25 873.6V884.7M1038.75 878.3V880.3M1040.25 876.3V882.8M1041.75 873.5V883.2M1043.25 875.7V881.4M1044.75 879.5V890.5M1046.25 883.0V894.7M1047.75 871.2V884.6M1049.25 870.0V875.3M1050.75 874.3V887.0M1052.25 885.9V898.3M1053.75 884.7V893.1M1055.25 883.3V896.4M1056.75 876.8V886.9M1058.25 879.0V891.8M1059.75 890.7V898.4M1061.25 882.6V893.8M1062.75 878.7V894.3M1064.25 891.1V901.7M1065.75 888.7V903.0M1067.25 883.9V891.9M1068.75 885.3V892.8M1070.25 889.3V893.5M1071.75 887.0V897.4M1073.25 885.7V891.3M1074.75 883.1V891.3M1076.25 888.4V897.4M1077.75 893.4V900.3M1079.25 889.5V895.1M1080.75 882.2V890.5M1082.25 871.8V883.4M1083.75 865.7V874.6M1085.25 864.4V876.5M1086.75 872.1V876.6M1088.25 862.0V873.5M1089.75 841.7V862.8M1091.25 821.0V843.2M1092.75 806.9V822.7M1094.25 798.9V808.3M1095.75 797.6V805.4M1097.25 791.5V802.0M1098.75 789.8V810.3M1100.25 804.8V813.4M1101.75 807.3V820.4M1103.25 806.4V816.3M1104.75 804.3V811.3M1106.25 806.9V812.8M1107.75 805.5V810.1M1109.25 796.7V808.3M1110.75 804.9V816.3M1112.25 806.5V813.0M1113.75 804.9V810.5M1115.25 799.4V808.2M1116.75 801.0V810.2M1118.25 804.3V813.0M1119.75 810.5V817.5M1121.25 816.0V827.1M1122.75 823.6V837.1M1124.25 824.9V842.0M1125.75 821.7V828.7M1127.25 817.2V822.2M1128.75 818.7V824.4M1130.25 820.4V827.4M1131.75 819.6V830.5M1133.25 829.3V841.6M1134.75 830.4V842.1M1136.25 821.9V831.4M1137.75 812.9V822.1M1139.25 801.0V814.3M1140.75 799.9V807.0M1142.25 805.6V810.9M1143.75 800.5V807.2M1145.25 800.6V805.5M1146.75 792.2V802.3M1148.25 785.0V793.3M1149.75 784.6V786.6M1151.25 781.4V789.2M1152.75 787.3V800.3M1154.25 794.3V800.8M1155.75 786.3V795.1M1157.25 774.3V787.6M1158.75 768.2V778.5M1160.25 769.7V777.3M1161.75 761.9V771.2M1163.25 761.0V766.8M1164.75 762.1V769.3M1166.25 766.3V775.3M1167.75 769.8V778.0M1169.25 772.6V777.6M1170.75 774.2V783.1M1172.25 767.3V780.0M1173.75 760.5V768.0M1175.25 753.6V761.6M1176.75 752.7V763.2M1178.25 762.3V770.5M1179.75 767.0V777.8M1181.25 764.5V771.6M1182.75 768.3V776.3M1184.25 762.5V769.2M1185.75 764.5V777.9M1187.25 762.8V774.9M1188.75 763.8V773.4M1190.25 771.3V779.1M1191.75 775.5V780.2M1193.25 778.3V792.7M1194.75 788.2V797.7M1196.25 779.7V789.1M1197.75 768.7V780.1M1199.25 754.2V770.6M1200.75 758.7V767.4M1202.25 762.8V768.5M1203.75 756.6V766.6M1205.25 756.0V760.8M1206.75 753.3V759.3M1208.25 745.8V756.5M1209.75 742.1V754.2M1211.25 750.2V758.2M1212.75 757.2V764.7M1214.25 762.9V773.7M1215.75 772.8V781.0M1217.25 778.3V788.6M1218.75 777.2V788.4M1220.25 776.4V780.9M1221.75 772.3V781.8M1223.25 776.5V785.5M1224.75 772.4V778.6M1226.25 769.9V780.8M1227.75 769.2V787.8M1229.25 778.3V787.5M1230.75 772.6V783.2M1232.25 762.2V774.0M1233.75 759.5V764.1M1235.25 759.5V780.1M1236.75 774.8V784.5M1238.25 781.6V787.4M1239.75 787.0V794.0M1241.25 788.4V795.2M1242.75 787.7V792.7M1244.25 787.2V794.4M1245.75 787.2V794.5M1247.25 793.1V800.3M1248.75 798.3V807.7M1250.25 804.7V814.7M1251.75 813.2V827.8M1253.25 823.8V832.6M1254.75 814.8V825.2M1256.25 814.9V817.7M1257.75 812.4V819.6M1259.25 809.6V816.4M1260.75 809.3V819.1M1262.25 814.3V822.1M1263.75 801.9V816.4M1265.25 795.4V804.9M1266.75 797.2V804.3M1268.25 795.6V804.7M1269.75 794.5V806.0M1271.25 795.7V803.7M1272.75 791.3V802.6M1274.25 796.6V801.9M1275.75 800.0V808.6M1277.25 808.2V817.6M1278.75 811.2V817.8M1280.25 813.2V822.3M1281.75 814.5V821.2M1283.25 819.5V829.8M1284.75 828.9V841.6M1286.25 833.3V840.7M1287.75 836.9V847.6M1289.25 844.7V855.6M1290.75 842.1V850.0M1292.25 839.3V846.0M1293.75 839.7V846.3M1295.25 844.0V856.0M1296.75 853.0V866.0M1298.25 864.2V870.7M1299.75 867.4V875.6M1301.25 873.0V883.2M1302.75 872.7V880.7M1304.25 860.9V873.5M1305.75 856.3V867.9M1307.25 859.4V870.2M1308.75 859.9V868.3M1310.25 857.4V867.0M1311.75 860.1V865.7M1313.25 857.1V864.5M1314.75 849.0V858.8M1316.25 849.9V855.0M1317.75 854.3V866.4M1319.25 855.4V863.1M1320.75 859.4V866.2M1322.25 858.5V866.8M1323.75 856.3V864.6M1325.25 856.2V860.4M1326.75 855.6V865.3M1328.25 861.3V872.9M1329.75 868.4V877.0M1331.25 871.9V875.5M1332.75 873.4V884.7M1334.25 884.0V889.2M1335.75 885.4V892.4M1337.25 887.3V898.1M1338.75 896.6V902.7M1340.25 893.8V901.1M1341.75 897.8V906.7M1343.25 898.3V911.3M1344.75 908.0V926.5M1346.25 925.1V930.3M1347.75 926.8V940.4M1349.25 931.9V943.1M1350.75 930.8V937.6M1352.25 929.8V935.3M1353.75 930.7V937.5M1355.25 932.4V941.8M1356.75 931.5V942.7M1358.25 924.5V932.6M1359.75 915.4V926.0M1361.25 909.3V918.0M1362.75 913.1V920.2M1364.25 914.6V922.6M1365.75 910.9V922.7M1367.25 907.8V912.2M1368.75 907.4V913.4M1370.25 911.5V923.6M1371.75 922.6V935.7M1373.25 925.3V935.2M1374.75 921.4V929.1M1376.25 916.8V924.2M1377.75 915.6V921.1M1379.25 913.0V922.5M1380.75 911.4V920.5M1382.25 911.3V915.3M1383.75 905.8V914.1M1385.25 908.6V918.7M1386.75 905.7V911.4M1388.25 902.2V907.9M1389.75 902.0V907.3M1391.25 897.0V905.8M1392.75 891.7V903.5M1394.25 874.2V893.7M1395.75 860.9V875.2M1397.25 857.3V862.4M1398.75 858.7V868.4M1400.25 865.9V872.4M1401.75 866.1V875.6M1403.25 872.4V880.7M1404.75 859.7V876.2M1406.25 859.9V867.3M1407.75 862.1V867.6M1409.25 862.1V875.9M1410.75 856.2V875.0M1412.25 837.4V858.0M1413.75 820.8V839.1M1415.25 815.2V821.9M1416.75 814.2V822.6M1418.25 816.8V823.9M1419.75 815.4V823.2M1421.25 813.4V823.7M1422.75 816.0V822.8M1424.25 813.8V820.9M1425.75 807.3V816.1M1427.25 795.8V810.2M1428.75 789.7V799.1M1430.25 792.3V803.6M1431.75 800.2V818.1M1433.25 815.6V822.5M1434.75 812.6V822.6M1436.25 813.8V818.8M1437.75 809.1V817.1M1439.25 799.4V810.9M1440.75 799.1V808.1M1442.25 803.3V810.8M1443.75 802.8V810.8M1445.25 794.7V806.2M1446.75 791.7V800.3M1448.25 783.3V793.3M1449.75 784.8V796.0M1451.25 794.4V802.6M1452.75 788.9V800.1M1454.25 771.7V792.6M1455.75 772.1V780.2M1457.25 769.1V777.6M1458.75 774.7V786.4M1460.25 766.4V777.8M1461.75 759.6V768.8M1463.25 739.5V760.8M1464.75 757.5V776.7M1466.25 775.4V790.6M1467.75 788.1V799.2M1469.25 793.2V805.3M1470.75 773.9V795.0M1472.25 771.3V781.0M1473.75 774.4V784.5M1475.25 777.3V783.4M1476.75 771.9V779.5M1478.25 768.1V776.2M1479.75 760.8V769.6M1481.25 755.9V763.8M1482.75 753.5V763.0M1484.25 748.5V756.0M1485.75 751.8V757.9M1487.25 749.5V755.4M1488.75 752.4V761.8M1490.25 723.2V757.8M1491.75 714.9V725.2M1493.25 724.2V735.2M1494.75 725.5V734.3M1496.25 730.2V736.5M1497.75 724.5V732.1M1499.25 730.7V750.9M1500.75 744.5V750.5M1502.25 746.3V756.9M1503.75 756.1V778.2M1505.25 766.6V778.1M1506.75 764.3V768.6M1508.25 765.9V775.0M1509.75 761.4V769.9M1511.25 761.6V775.6M1512.75 774.9V794.1M1514.25 791.9V803.1M1515.75 801.5V811.7M1517.25 810.2V821.7M1518.75 808.8V824.2M1520.25 807.2V816.3M1521.75 804.5V813.3M1523.25 802.4V810.2M1524.75 799.3V806.4M1526.25 794.3V806.2M1527.75 789.9V795.0M1529.25 794.3V810.0M1530.75 799.0V809.1M1532.25 799.8V806.5M1533.75 805.7V821.3M1535.25 807.1V820.6M1536.75 805.0V811.9M1538.25 801.3V808.7M1539.75 800.5V809.9M1541.25 798.8V805.7M1542.75 796.9V805.7M1544.25 799.0V808.0M1545.75 794.5V804.1M1547.25 795.5V811.1M1548.75 791.3V800.1M1550.25 796.4V805.1M1551.75 799.7V806.4M1553.25 801.0V809.3M1554.75 807.5V820.6M1556.25 804.0V822.9M1557.75 796.4V805.4M1559.25 796.6V800.9M1560.75 792.7V803.9M1562.25 798.4V805.2M1563.75 793.7V802.7M1565.25 794.8V810.4M1566.75 802.7V811.3M1568.25 809.6V826.9M1569.75 825.4V845.9M1571.25 832.2V842.9M1572.75 834.7V846.8M1574.25 839.0V850.2M1575.75 837.2V846.6M1577.25 844.8V849.5M1578.75 848.0V854.8M1580.25 853.0V863.9M1581.75 859.3V869.3M1583.25 856.7V867.1M1584.75 857.4V866.3M1586.25 856.0V864.5M1587.75 850.9V858.6M1589.25 844.9V854.6M1590.75 846.4V857.4M1592.25 852.2V855.3M1593.75 852.4V862.2M1595.25 854.9V862.8M1596.75 846.0V855.2M1598.25 847.0V853.5M1599.75 848.3V853.6M1601.25 851.0V856.4M1602.75 849.0V856.6M1604.25 850.2V854.4M1605.75 849.0V856.1M1607.25 845.9V855.9M1608.75 845.7V853.0M1610.25 836.0V846.0M1611.75 840.7V855.1M1613.25 853.9V867.1M1614.75 864.4V870.2M1616.25 863.5V871.6M1617.75 856.3V865.4M1619.25 856.0V864.3M1620.75 862.8V870.1M1622.25 868.2V873.9M1623.75 871.3V877.8M1625.25 865.8V874.5M1626.75 863.8V868.8M1628.25 866.1V869.1M1629.75 867.0V871.0M1631.25 864.9V873.8M1632.75 864.5V872.4M1634.25 864.9V871.2M1635.75 863.4V875.0M1637.25 869.1V875.4M1638.75 865.0V869.8M1640.25 866.8V873.7M1641.75 868.9V881.2M1643.25 874.7V883.4M1644.75 873.6V879.0M1646.25 876.7V884.1M1647.75 878.7V885.8M1649.25 881.8V886.6M1650.75 874.1V883.0M1652.25 864.3V875.9M1653.75 864.6V873.0M1655.25 860.5V868.8M1656.75 861.3V873.8M1658.25 855.6V862.3M1659.75 852.7V860.6M1661.25 857.0V868.7M1662.75 865.6V873.1M1664.25 872.6V877.7M1665.75 873.4V879.4M1667.25 875.2V882.5M1668.75 880.4V892.2M1670.25 890.5V900.2M1671.75 898.6V905.5M1673.25 903.6V908.4M1674.75 904.0V911.4M1676.25 901.6V909.6M1677.75 899.6V905.7M1679.25 897.3V902.7M1680.75 897.4V910.0M1682.25 903.2V912.7M1683.75 902.1V908.9M1685.25 898.5V909.3M1686.75 890.5V903.7M1688.25 896.4V905.7M1689.75 903.0V913.4M1691.25 908.3V919.0M1692.75 908.7V919.7M1694.25 906.1V910.5M1695.75 904.4V911.2M1697.25 906.1V912.8M1698.75 906.2V916.9M1700.25 908.4V916.8M1701.75 910.9V919.6M1703.25 910.7V916.5M1704.75 913.8V920.8M1706.25 915.5V919.8M1707.75 915.9V916.8" fill="none" stroke="#ff0000" stroke-width="2.30" stroke-linecap="square"/>
<g stroke="#000" stroke-width="1.4" fill="none">
<line x1="40.3" y1="984.1" x2="44" y2="984.1"/>
<line x1="40.3" y1="960.3" x2="44" y2="960.3"/>
<line x1="36.0" y1="936.5" x2="44" y2="936.5"/>
<line x1="40.3" y1="912.5" x2="44" y2="912.5"/>
<line x1="40.3" y1="888.6" x2="44" y2="888.6"/>
<line x1="40.3" y1="864.6" x2="44" y2="864.6"/>
<line x1="40.3" y1="840.7" x2="44" y2="840.7"/>
<line x1="36.0" y1="816.7" x2="44" y2="816.7"/>
<line x1="40.3" y1="793.3" x2="44" y2="793.3"/>
<line x1="40.3" y1="769.8" x2="44" y2="769.8"/>
<line x1="40.3" y1="746.4" x2="44" y2="746.4"/>
<line x1="40.3" y1="722.9" x2="44" y2="722.9"/>
<line x1="36.0" y1="699.5" x2="44" y2="699.5"/>
<line x1="40.3" y1="675.5" x2="44" y2="675.5"/>
<line x1="40.3" y1="651.5" x2="44" y2="651.5"/>
<line x1="40.3" y1="627.5" x2="44" y2="627.5"/>
<line x1="40.3" y1="603.5" x2="44" y2="603.5"/>
<line x1="36.0" y1="579.5" x2="44" y2="579.5"/>
<line x1="40.3" y1="556.1" x2="44" y2="556.1"/>
<line x1="40.3" y1="532.7" x2="44" y2="532.7"/>
<line x1="40.3" y1="509.3" x2="44" y2="509.3"/>
<line x1="40.3" y1="485.9" x2="44" y2="485.9"/>
<line x1="36.0" y1="462.5" x2="44" y2="462.5"/>
<line x1="40.3" y1="438.5" x2="44" y2="438.5"/>
<line x1="40.3" y1="414.5" x2="44" y2="414.5"/>
<line x1="40.3" y1="390.5" x2="44" y2="390.5"/>
<line x1="40.3" y1="366.5" x2="44" y2="366.5"/>
<line x1="36.0" y1="342.5" x2="44" y2="342.5"/>
<line x1="40.3" y1="319.1" x2="44" y2="319.1"/>
<line x1="40.3" y1="295.7" x2="44" y2="295.7"/>
<line x1="40.3" y1="272.3" x2="44" y2="272.3"/>
<line x1="40.3" y1="248.9" x2="44" y2="248.9"/>
<line x1="36.0" y1="225.5" x2="44" y2="225.5"/>
<line x1="40.3" y1="201.5" x2="44" y2="201.5"/>
<line x1="40.3" y1="177.5" x2="44" y2="177.5"/>
<line x1="40.3" y1="153.4" x2="44" y2="153.4"/>
<line x1="40.3" y1="129.4" x2="44" y2="129.4"/>
<line x1="36.0" y1="105.4" x2="44" y2="105.4"/>
<line x1="40.3" y1="81.6" x2="44" y2="81.6"/>
<line x1="40.3" y1="57.8" x2="44" y2="57.8"/>
<line x1="1857" y1="994.9" x2="1865.6" y2="994.9"/>
<line x1="1857" y1="963.3" x2="1861.0" y2="963.3"/>
<line x1="1857" y1="931.7" x2="1861.0" y2="931.7"/>
<line x1="1857" y1="900.1" x2="1861.0" y2="900.1"/>
<line x1="1857" y1="868.5" x2="1861.0" y2="868.5"/>
<line x1="1857" y1="836.9" x2="1865.6" y2="836.9"/>
<line x1="1857" y1="805.3" x2="1861.0" y2="805.3"/>
<line x1="1857" y1="773.7" x2="1861.0" y2="773.7"/>
<line x1="1857" y1="742.1" x2="1861.0" y2="742.1"/>
<line x1="1857" y1="710.5" x2="1861.0" y2="710.5"/>
<line x1="1857" y1="678.9" x2="1865.6" y2="678.9"/>
<line x1="1857" y1="647.3" x2="1861.0" y2="647.3"/>
<line x1="1857" y1="615.7" x2="1861.0" y2="615.7"/>
<line x1="1857" y1="584.1" x2="1861.0" y2="584.1"/>
<line x1="1857" y1="552.5" x2="1861.0" y2="552.5"/>
<line x1="1857" y1="520.9" x2="1865.6" y2="520.9"/>
<line x1="1857" y1="489.3" x2="1861.0" y2="489.3"/>
<line x1="1857" y1="457.7" x2="1861.0" y2="457.7"/>
<line x1="1857" y1="426.1" x2="1861.0" y2="426.1"/>
<line x1="1857" y1="394.5" x2="1861.0" y2="394.5"/>
<line x1="1857" y1="362.9" x2="1865.6" y2="362.9"/>
<line x1="1857" y1="331.3" x2="1861.0" y2="331.3"/>
<line x1="1857" y1="299.7" x2="1861.0" y2="299.7"/>
<line x1="1857" y1="268.1" x2="1861.0" y2="268.1"/>
<line x1="1857" y1="236.5" x2="1861.0" y2="236.5"/>
<line x1="1857" y1="204.9" x2="1865.6" y2="204.9"/>
<line x1="1857" y1="173.3" x2="1861.0" y2="173.3"/>
<line x1="1857" y1="141.7" x2="1861.0" y2="141.7"/>
<line x1="1857" y1="110.1" x2="1861.0" y2="110.1"/>
<line x1="1857" y1="78.5" x2="1861.0" y2="78.5"/>
<line x1="1857" y1="46.9" x2="1865.6" y2="46.9"/>
<line x1="44.5" y1="996" x2="44.5" y2="1000.0"/>
<line x1="63.4" y1="996" x2="63.4" y2="1000.0"/>
<line x1="82.2" y1="996" x2="82.2" y2="1000.0"/>
<line x1="101.1" y1="996" x2="101.1" y2="1000.0"/>
<line x1="120.0" y1="996" x2="120.0" y2="1004.3"/>
<line x1="138.9" y1="996" x2="138.9" y2="1000.0"/>
<line x1="157.8" y1="996" x2="157.8" y2="1000.0"/>
<line x1="176.6" y1="996" x2="176.6" y2="1000.0"/>
<line x1="195.5" y1="996" x2="195.5" y2="1000.0"/>
<line x1="214.4" y1="996" x2="214.4" y2="1000.0"/>
<line x1="233.2" y1="996" x2="233.2" y2="1000.0"/>
<line x1="252.1" y1="996" x2="252.1" y2="1000.0"/>
<line x1="271.0" y1="996" x2="271.0" y2="1004.3"/>
<line x1="289.9" y1="996" x2="289.9" y2="1000.0"/>
<line x1="308.8" y1="996" x2="308.8" y2="1000.0"/>
<line x1="327.6" y1="996" x2="327.6" y2="1000.0"/>
<line x1="346.5" y1="996" x2="346.5" y2="1000.0"/>
<line x1="365.4" y1="996" x2="365.4" y2="1000.0"/>
<line x1="384.2" y1="996" x2="384.2" y2="1000.0"/>
<line x1="403.1" y1="996" x2="403.1" y2="1000.0"/>
<line x1="422.0" y1="996" x2="422.0" y2="1004.3"/>
<line x1="440.9" y1="996" x2="440.9" y2="1000.0"/>
<line x1="459.8" y1="996" x2="459.8" y2="1000.0"/>
<line x1="478.6" y1="996" x2="478.6" y2="1000.0"/>
<line x1="497.5" y1="996" x2="497.5" y2="1000.0"/>
<line x1="516.4" y1="996" x2="516.4" y2="1000.0"/>
<line x1="535.2" y1="996" x2="535.2" y2="1000.0"/>
<line x1="554.1" y1="996" x2="554.1" y2="1000.0"/>
<line x1="573.0" y1="996" x2="573.0" y2="1004.3"/>
<line x1="591.9" y1="996" x2="591.9" y2="1000.0"/>
<line x1="610.8" y1="996" x2="610.8" y2="1000.0"/>
<line x1="629.6" y1="996" x2="629.6" y2="1000.0"/>
<line x1="648.5" y1="996" x2="648.5" y2="1000.0"/>
<line x1="667.4" y1="996" x2="667.4" y2="1000.0"/>
<line x1="686.2" y1="996" x2="686.2" y2="1000.0"/>
<line x1="705.1" y1="996" x2="705.1" y2="1000.0"/>
<line x1="724.0" y1="996" x2="724.0" y2="1004.3"/>
<line x1="742.9" y1="996" x2="742.9" y2="1000.0"/>
<line x1="761.8" y1="996" x2="761.8" y2="1000.0"/>
<line x1="780.6" y1="996" x2="780.6" y2="1000.0"/>
<line x1="799.5" y1="996" x2="799.5" y2="1000.0"/>
<line x1="818.4" y1="996" x2="818.4" y2="1000.0"/>
<line x1="837.2" y1="996" x2="837.2" y2="1000.0"/>
<line x1="856.1" y1="996" x2="856.1" y2="1000.0"/>
<line x1="875.0" y1="996" x2="875.0" y2="1004.3"/>
<line x1="893.9" y1="996" x2="893.9" y2="1000.0"/>
<line x1="912.8" y1="996" x2="912.8" y2="1000.0"/>
<line x1="931.6" y1="996" x2="931.6" y2="1000.0"/>
<line x1="950.5" y1="996" x2="950.5" y2="1000.0"/>
<line x1="969.4" y1="996" x2="969.4" y2="1000.0"/>
<line x1="988.2" y1="996" x2="988.2" y2="1000.0"/>
<line x1="1007.1" y1="996" x2="1007.1" y2="1000.0"/>
<line x1="1026.0" y1="996" x2="1026.0" y2="1004.3"/>
<line x1="1044.9" y1="996" x2="1044.9" y2="1000.0"/>
<line x1="1063.8" y1="996" x2="1063.8" y2="1000.0"/>
<line x1="1082.6" y1="996" x2="1082.6" y2="1000.0"/>
<line x1="1101.5" y1="996" x2="1101.5" y2="1000.0"/>
<line x1="1120.4" y1="996" x2="1120.4" y2="1000.0"/>
<line x1="1139.2" y1="996" x2="1139.2" y2="1000.0"/>
<line x1="1158.1" y1="996" x2="1158.1" y2="1000.0"/>
<line x1="1177.0" y1="996" x2="1177.0" y2="1004.3"/>
<line x1="1195.9" y1="996" x2="1195.9" y2="1000.0"/>
<line x1="1214.8" y1="996" x2="1214.8" y2="1000.0"/>
<line x1="1233.6" y1="996" x2="1233.6" y2="1000.0"/>
<line x1="1252.5" y1="996" x2="1252.5" y2="1000.0"/>
<line x1="1271.4" y1="996" x2="1271.4" y2="1000.0"/>
<line x1="1290.2" y1="996" x2="1290.2" y2="1000.0"/>
<line x1="1309.1" y1="996" x2="1309.1" y2="1000.0"/>
<line x1="1328.0" y1="996" x2="1328.0" y2="1004.3"/>
<line x1="1346.9" y1="996" x2="1346.9" y2="1000.0"/>
<line x1="1365.8" y1="996" x2="1365.8" y2="1000.0"/>
<line x1="1384.6" y1="996" x2="1384.6" y2="1000.0"/>
<line x1="1403.5" y1="996" x2="1403.5" y2="1000.0"/>
<line x1="1422.4" y1="996" x2="1422.4" y2="1000.0"/>
<line x1="1441.2" y1="996" x2="1441.2" y2="1000.0"/>
<line x1="1460.1" y1="996" x2="1460.1" y2="1000.0"/>
<line x1="1479.0" y1="996" x2="1479.0" y2="1004.3"/>
<line x1="1497.9" y1="996" x2="1497.9" y2="1000.0"/>
<line x1="1516.8" y1="996" x2="1516.8" y2="1000.0"/>
<line x1="1535.6" y1="996" x2="1535.6" y2="1000.0"/>
<line x1="1554.5" y1="996" x2="1554.5" y2="1000.0"/>
<line x1="1573.4" y1="996" x2="1573.4" y2="1000.0"/>
<line x1="1592.2" y1="996" x2="1592.2" y2="1000.0"/>
<line x1="1611.1" y1="996" x2="1611.1" y2="1000.0"/>
<line x1="1630.0" y1="996" x2="1630.0" y2="1004.3"/>
<line x1="1648.9" y1="996" x2="1648.9" y2="1000.0"/>
<line x1="1667.8" y1="996" x2="1667.8" y2="1000.0"/>
<line x1="1686.6" y1="996" x2="1686.6" y2="1000.0"/>
<line x1="1705.5" y1="996" x2="1705.5" y2="1000.0"/>
<line x1="1724.4" y1="996" x2="1724.4" y2="1000.0"/>
<line x1="1743.2" y1="996" x2="1743.2" y2="1000.0"/>
<line x1="1762.1" y1="996" x2="1762.1" y2="1000.0"/>
<line x1="1781.0" y1="996" x2="1781.0" y2="1004.3"/>
<line x1="1799.9" y1="996" x2="1799.9" y2="1000.0"/>
<line x1="1818.8" y1="996" x2="1818.8" y2="1000.0"/>
<line x1="1837.6" y1="996" x2="1837.6" y2="1000.0"/>
</g>
<rect x="45.3" y="47" width="1810.9" height="947.7" fill="none" stroke="#000" stroke-width="4.4"/>
<rect x="50" y="51.5" width="1215" height="89.7" fill="#2e7d72"/>
<text class="ttl" x="652" y="85" text-anchor="middle">US 10-YEAR TREASURY BOND YIELD VS</text>
<text class="ttl" x="657.5" y="127.2" text-anchor="middle">RATIO OF INDUSTRIAL TO PRECIOUS METALS COMMODITIES PRICE INDEX</text>
<rect x="51.5" y="146.4" width="1034.8" height="62.6" fill="#fff" stroke="#000" stroke-width="2.8"/>
<line x1="59" y1="162.5" x2="113" y2="162.5" stroke="#0000ff" stroke-width="3"/>
<line x1="59" y1="189.5" x2="113" y2="189.5" stroke="#ff0000" stroke-width="3"/>
<text class="lg" x="121.5" y="169.6">10-Year Treasury Bond Yield (Jan 08 = 4.7) &lt;&lt;&lt;</text>
<text class="lg" x="121.5" y="196.8">Ratio of Industrial to Precious Metals Commodity Price Indexes (Jan 08 = 0.1) &gt;&gt;&gt;</text>
<text class="ax" x="20.5" y="943.1" text-anchor="middle" fill="#0000ff">1</text>
<text class="ax" x="20.5" y="823.3" text-anchor="middle" fill="#0000ff">2</text>
<text class="ax" x="20.5" y="706.1" text-anchor="middle" fill="#0000ff">3</text>
<text class="ax" x="20.5" y="586.1" text-anchor="middle" fill="#0000ff">4</text>
<text class="ax" x="20.5" y="469.1" text-anchor="middle" fill="#0000ff">5</text>
<text class="ax" x="20.5" y="349.1" text-anchor="middle" fill="#0000ff">6</text>
<text class="ax" x="20.5" y="232.1" text-anchor="middle" fill="#0000ff">7</text>
<text class="ax" x="20.5" y="112.0" text-anchor="middle" fill="#0000ff">8</text>
<text class="ax" x="1873" y="1000.9" fill="#ff0000">0.1</text>
<text class="ax" x="1873" y="842.9" fill="#ff0000">0.2</text>
<text class="ax" x="1873" y="684.9" fill="#ff0000">0.3</text>
<text class="ax" x="1873" y="526.9" fill="#ff0000">0.4</text>
<text class="ax" x="1873" y="368.9" fill="#ff0000">0.5</text>
<text class="ax" x="1873" y="210.9" fill="#ff0000">0.6</text>
<text class="ax" x="1873" y="52.9" fill="#ff0000">0.7</text>
<text class="ax" x="119.5" y="1029.5" text-anchor="middle" fill="#000">2004</text>
<text class="ax" x="270.5" y="1029.5" text-anchor="middle" fill="#000">2006</text>
<text class="ax" x="421.5" y="1029.5" text-anchor="middle" fill="#000">2008</text>
<text class="ax" x="572.5" y="1029.5" text-anchor="middle" fill="#000">2010</text>
<text class="ax" x="723.5" y="1029.5" text-anchor="middle" fill="#000">2012</text>
<text class="ax" x="874.5" y="1029.5" text-anchor="middle" fill="#000">2014</text>
<text class="ax" x="1025.5" y="1029.5" text-anchor="middle" fill="#000">2016</text>
<text class="ax" x="1176.5" y="1029.5" text-anchor="middle" fill="#000">2018</text>
<text class="ax" x="1327.5" y="1029.5" text-anchor="middle" fill="#000">2020</text>
<text class="ax" x="1478.5" y="1029.5" text-anchor="middle" fill="#000">2022</text>
<text class="ax" x="1629.5" y="1029.5" text-anchor="middle" fill="#000">2024</text>
<text class="ax" x="1780.5" y="1029.5" text-anchor="middle" fill="#000">2026</text>
<text class="lg" x="48" y="1067.7" style="font-size:23.96px">Source: LSEG Datastream and © Yardeni Research.</text>
</svg></body></html>
